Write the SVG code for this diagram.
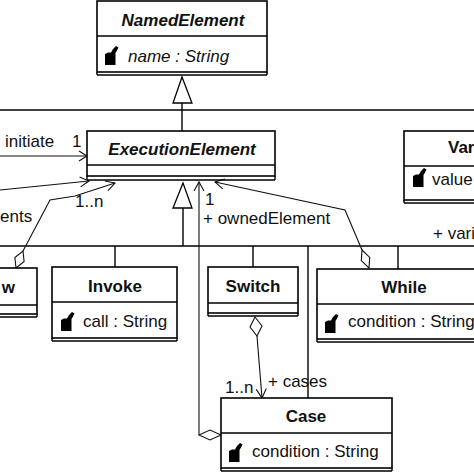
<svg xmlns="http://www.w3.org/2000/svg" width="474" height="474" viewBox="0 0 474 474">
<style>
.box{fill:#fff;stroke:#000;stroke-width:1.6}
.ln{stroke:#000;stroke-width:1.4;fill:none}
.cn{stroke:#111;stroke-width:1.1;fill:none}
.dia{fill:#fff;stroke:#111;stroke-width:1.1}
.gen{fill:#fff;stroke:#000;stroke-width:1.3}
text{font-family:"Liberation Sans",Arial,sans-serif;font-size:17px;fill:#111}
.t{font-weight:bold;text-anchor:middle}
.ti{font-weight:bold;font-style:italic;text-anchor:middle}
.i{font-style:italic}
</style>
<defs>
<path id="icon" d="M0,8 L3,6.5 L6,6.5 L8,3 L11,0 L13.5,1.5 L12,4.5 L10.5,7 L10.5,19 L0,19 Z" fill="#000"/>
</defs>
<rect width="474" height="474" fill="#fff"/>

<g id="connectors">
<line class="ln" x1="0" y1="110" x2="474" y2="110"/>
<line class="ln" x1="182" y1="103" x2="182" y2="131"/>
<polygon class="gen" points="182,77 173,103 192,103"/>
<line class="ln" x1="0" y1="246" x2="474" y2="246"/>
<line class="ln" x1="183" y1="208" x2="183" y2="246"/>
<polygon class="gen" points="183,183 173,208 192,208"/>
<line class="ln" x1="115" y1="246" x2="115" y2="267"/>
<line class="ln" x1="253" y1="246" x2="253" y2="267"/>
<line class="ln" x1="308" y1="246" x2="308" y2="398"/>
<line class="ln" x1="398" y1="246" x2="398" y2="269"/>
<line class="cn" x1="0" y1="156" x2="87" y2="156"/>
<polyline class="cn" points="79,151 87,156 79,161"/>
<line class="cn" x1="0" y1="190" x2="89" y2="181"/>
<polyline class="cn" points="80.6,186.9 89,181 79.6,176.9"/>
<polyline class="cn" points="23,251 50,200 75,196 115,183"/>
<polyline class="cn" points="108,190.6 115,183 104.9,181"/>
<polygon class="dia" points="16,268 24.1,261.4 23,251 14.9,257.6"/>
<line class="cn" x1="199" y1="182" x2="199" y2="435"/>
<polyline class="cn" points="194,191 199,182 204,191"/>
<polygon class="dia" points="199,435 210,430 221,435 210,440"/>
<polyline class="cn" points="362,250 345,210 215,182"/>
<polyline class="cn" points="224.9,179 215,182 222.8,188.8"/>
<polygon class="dia" points="362,250 369.7,257.4 369,268 361.3,260.6"/>
<line class="cn" x1="257" y1="336" x2="262" y2="398"/>
<polyline class="cn" points="256.3,389.4 262,398 266.3,388.6"/>
<polygon class="dia" points="255,317 262,326 257,336 250,327"/>
<text x="72" y="147">1</text>
<text x="5" y="147">initiate</text>
<text x="0" y="222">ents</text>
<text x="75" y="207">1..n</text>
<text x="205" y="205">1</text>
<text x="203" y="224">+ ownedElement</text>
<text x="433" y="239">+ vari</text>
<text x="225" y="393">1..n</text>
<text x="268" y="387">+ cases</text>
</g>

<g id="NamedElement">
<rect class="box" x="97" y="1" width="170" height="71"/>
<line class="ln" x1="97" y1="36" x2="267" y2="36"/>
<line class="ln" x1="97" y1="75" x2="267" y2="75"/>
<line class="ln" x1="97" y1="72" x2="97" y2="75"/>
<line class="ln" x1="267" y1="72" x2="267" y2="75"/>
<text class="ti" x="183" y="26">NamedElement</text>
<use href="#icon" x="105" y="46"/>
<text class="i" x="128" y="62">name : String</text>
</g>

<g id="ExecutionElement">
<rect class="box" x="87" y="131" width="188" height="45"/>
<line class="ln" x1="87" y1="165" x2="275" y2="165"/>
<line class="ln" x1="87" y1="180" x2="275" y2="180"/>
<line class="ln" x1="87" y1="176" x2="87" y2="180"/>
<line class="ln" x1="275" y1="176" x2="275" y2="180"/>
<text class="ti" x="182" y="155">ExecutionElement</text>
</g>

<g id="Variable">
<rect class="box" x="404" y="131" width="90" height="69"/>
<line class="ln" x1="404" y1="166" x2="494" y2="166"/>
<line class="ln" x1="404" y1="203" x2="494" y2="203"/>
<line class="ln" x1="404" y1="200" x2="404" y2="203"/>
<text x="448" y="153" font-weight="bold">Var</text>
<use href="#icon" x="413" y="168"/>
<text x="432" y="185">value</text>
</g>

<g id="W">
<rect class="box" x="-10" y="268" width="47" height="46"/>
<line class="ln" x1="-10" y1="305" x2="37" y2="305"/>
<line class="ln" x1="-10" y1="317" x2="37" y2="317"/>
<line class="ln" x1="37" y1="314" x2="37" y2="317"/>
<text x="15" y="293" font-weight="bold" text-anchor="end">w</text>
</g>

<g id="Invoke">
<rect class="box" x="52" y="267" width="125" height="71"/>
<line class="ln" x1="52" y1="302" x2="177" y2="302"/>
<line class="ln" x1="52" y1="341" x2="177" y2="341"/>
<line class="ln" x1="52" y1="338" x2="52" y2="341"/>
<line class="ln" x1="177" y1="338" x2="177" y2="341"/>
<text class="t" x="115" y="292">Invoke</text>
<use href="#icon" x="61" y="312"/>
<text x="83" y="327">call : String</text>
</g>

<g id="Switch">
<rect class="box" x="208" y="267" width="90" height="46"/>
<line class="ln" x1="208" y1="303" x2="298" y2="303"/>
<line class="ln" x1="208" y1="316" x2="298" y2="316"/>
<line class="ln" x1="208" y1="313" x2="208" y2="316"/>
<line class="ln" x1="298" y1="313" x2="298" y2="316"/>
<text class="t" x="253" y="292">Switch</text>
</g>

<g id="While">
<rect class="box" x="317" y="269" width="170" height="70"/>
<line class="ln" x1="317" y1="304" x2="487" y2="304"/>
<line class="ln" x1="317" y1="342" x2="487" y2="342"/>
<line class="ln" x1="317" y1="339" x2="317" y2="342"/>
<text class="t" x="404" y="293">While</text>
<use href="#icon" x="325" y="314"/>
<text x="348" y="327">condition : String</text>
</g>

<g id="Case">
<rect class="box" x="221" y="398" width="171" height="70"/>
<line class="ln" x1="221" y1="433" x2="392" y2="433"/>
<line class="ln" x1="221" y1="471" x2="392" y2="471"/>
<line class="ln" x1="221" y1="468" x2="221" y2="471"/>
<line class="ln" x1="392" y1="468" x2="392" y2="471"/>
<text class="t" x="306" y="422">Case</text>
<use href="#icon" x="229" y="443"/>
<text x="252" y="457">condition : String</text>
</g>
</svg>
